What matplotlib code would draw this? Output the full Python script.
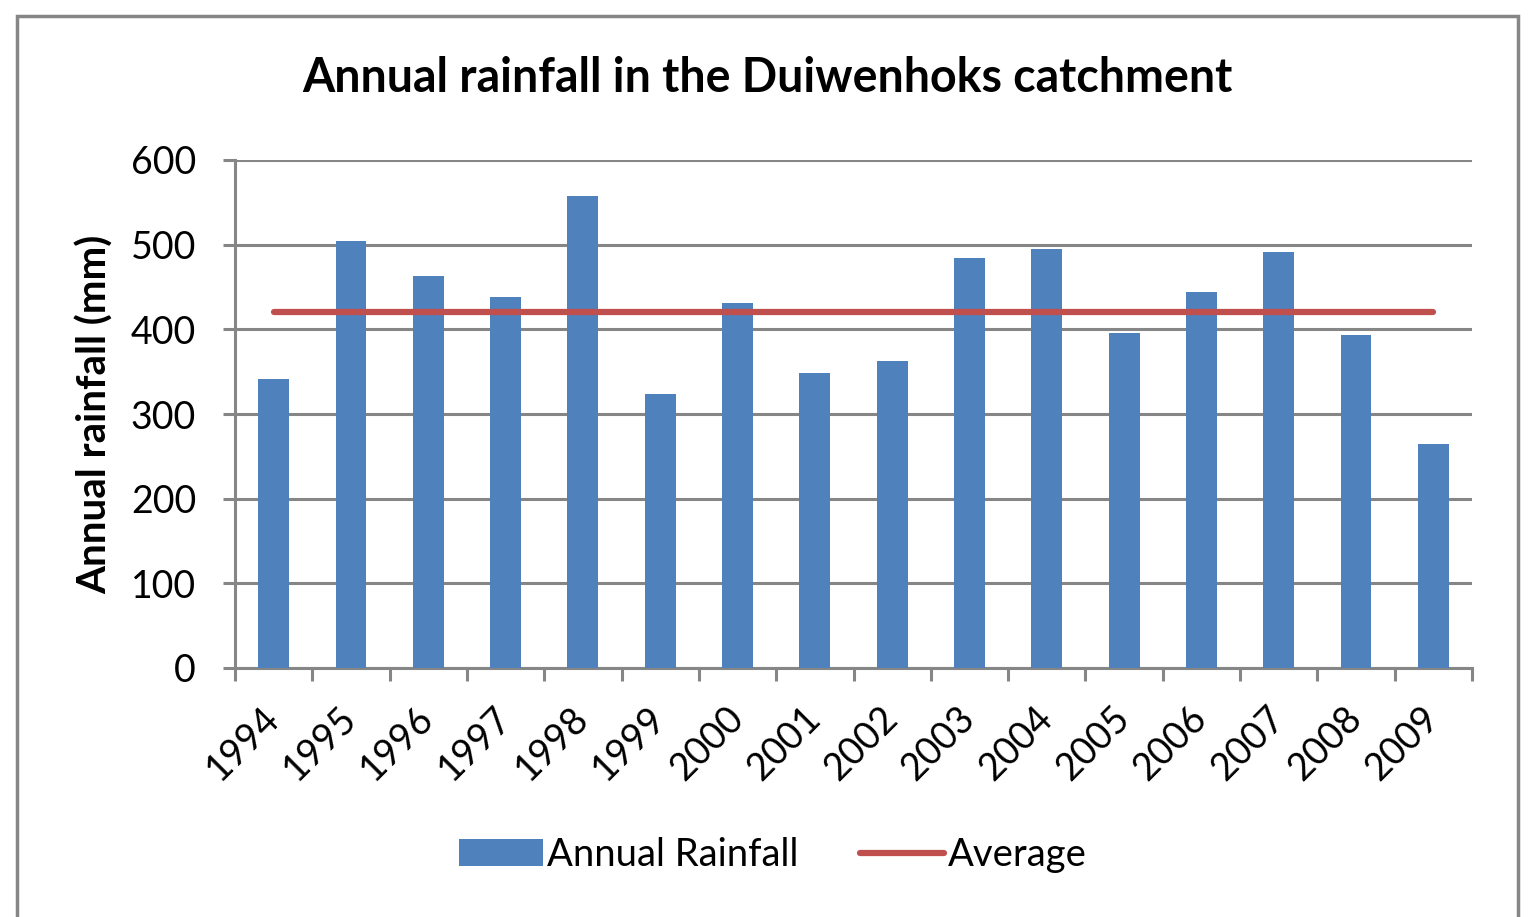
import numpy as np
import matplotlib
matplotlib.use('Agg')
import matplotlib.pyplot as plt
from matplotlib.patches import Rectangle

years = ['1994', '1995', '1996', '1997', '1998', '1999', '2000', '2001',
         '2002', '2003', '2004', '2005', '2006', '2007', '2008', '2009']
rainfall = [341, 504, 463, 438, 557, 324, 431, 348,
            363, 484, 495, 396, 444, 491, 393, 265]
average = [421] * len(years)

plt.rcParams['font.family'] = ['Lato', 'DejaVu Sans']

W, H = 1537, 917
fig = plt.figure(figsize=(W / 100, H / 100), dpi=100)
ax = fig.add_axes([235 / W, 1 - 668 / H, (1472 - 235) / W, (668 - 160) / H])

x = np.arange(len(years))
grey = '#868686'
bars = ax.bar(x, rainfall, width=0.4, color='#4f81bd', zorder=3, label='Annual Rainfall')
line, = ax.plot(x, average, color='#c0504d', lw=4.5, solid_capstyle='round', zorder=4, label='Average')

ax.set_xlim(-0.5, len(years) - 0.5)
ax.set_ylim(0, 600)
ax.set_yticks(range(0, 601, 100))
ax.yaxis.grid(True, color=grey, lw=2.2, zorder=0)
ax.set_axisbelow(True)

ax.set_xticks(np.arange(-0.5, len(years), 1.0))
ax.set_xticklabels([])
ax.set_xticks(x, minor=True)
ax.set_xticklabels(years, minor=True, rotation=45, ha='right', va='center',
                   rotation_mode='anchor', fontsize=27)
ax.tick_params(axis='x', which='minor', length=0, pad=32)
ax.tick_params(axis='x', which='major', length=9, width=2.2, color=grey)
ax.tick_params(axis='y', length=9, width=2.2, color=grey, labelsize=27, pad=19)

for s in ['top', 'right']:
    ax.spines[s].set_visible(False)
for s in ['left', 'bottom']:
    ax.spines[s].set_color(grey)
    ax.spines[s].set_linewidth(2.2)

ax.set_ylabel('Annual rainfall (mm)', fontsize=29, fontweight='bold', labelpad=12)

fig.text(767 / W, 1 - 78 / H, 'Annual rainfall in the Duiwenhoks catchment',
         ha='center', va='center', fontsize=33.5, fontweight='bold')

fig.legend([bars, line], ['Annual Rainfall', 'Average'], loc='center',
           bbox_to_anchor=(773 / W, 1 - 855 / H), ncol=2, frameon=False,
           fontsize=27.5, handlelength=2.2, handletextpad=0.1, columnspacing=1.6)

fig.patches.append(Rectangle((17 / W, -0.1), (1518 - 17) / W, 1.1 - 16 / H,
                             transform=fig.transFigure, fill=False,
                             edgecolor=grey, lw=2.5, clip_on=False))

fig.savefig('out.png', dpi=100)
